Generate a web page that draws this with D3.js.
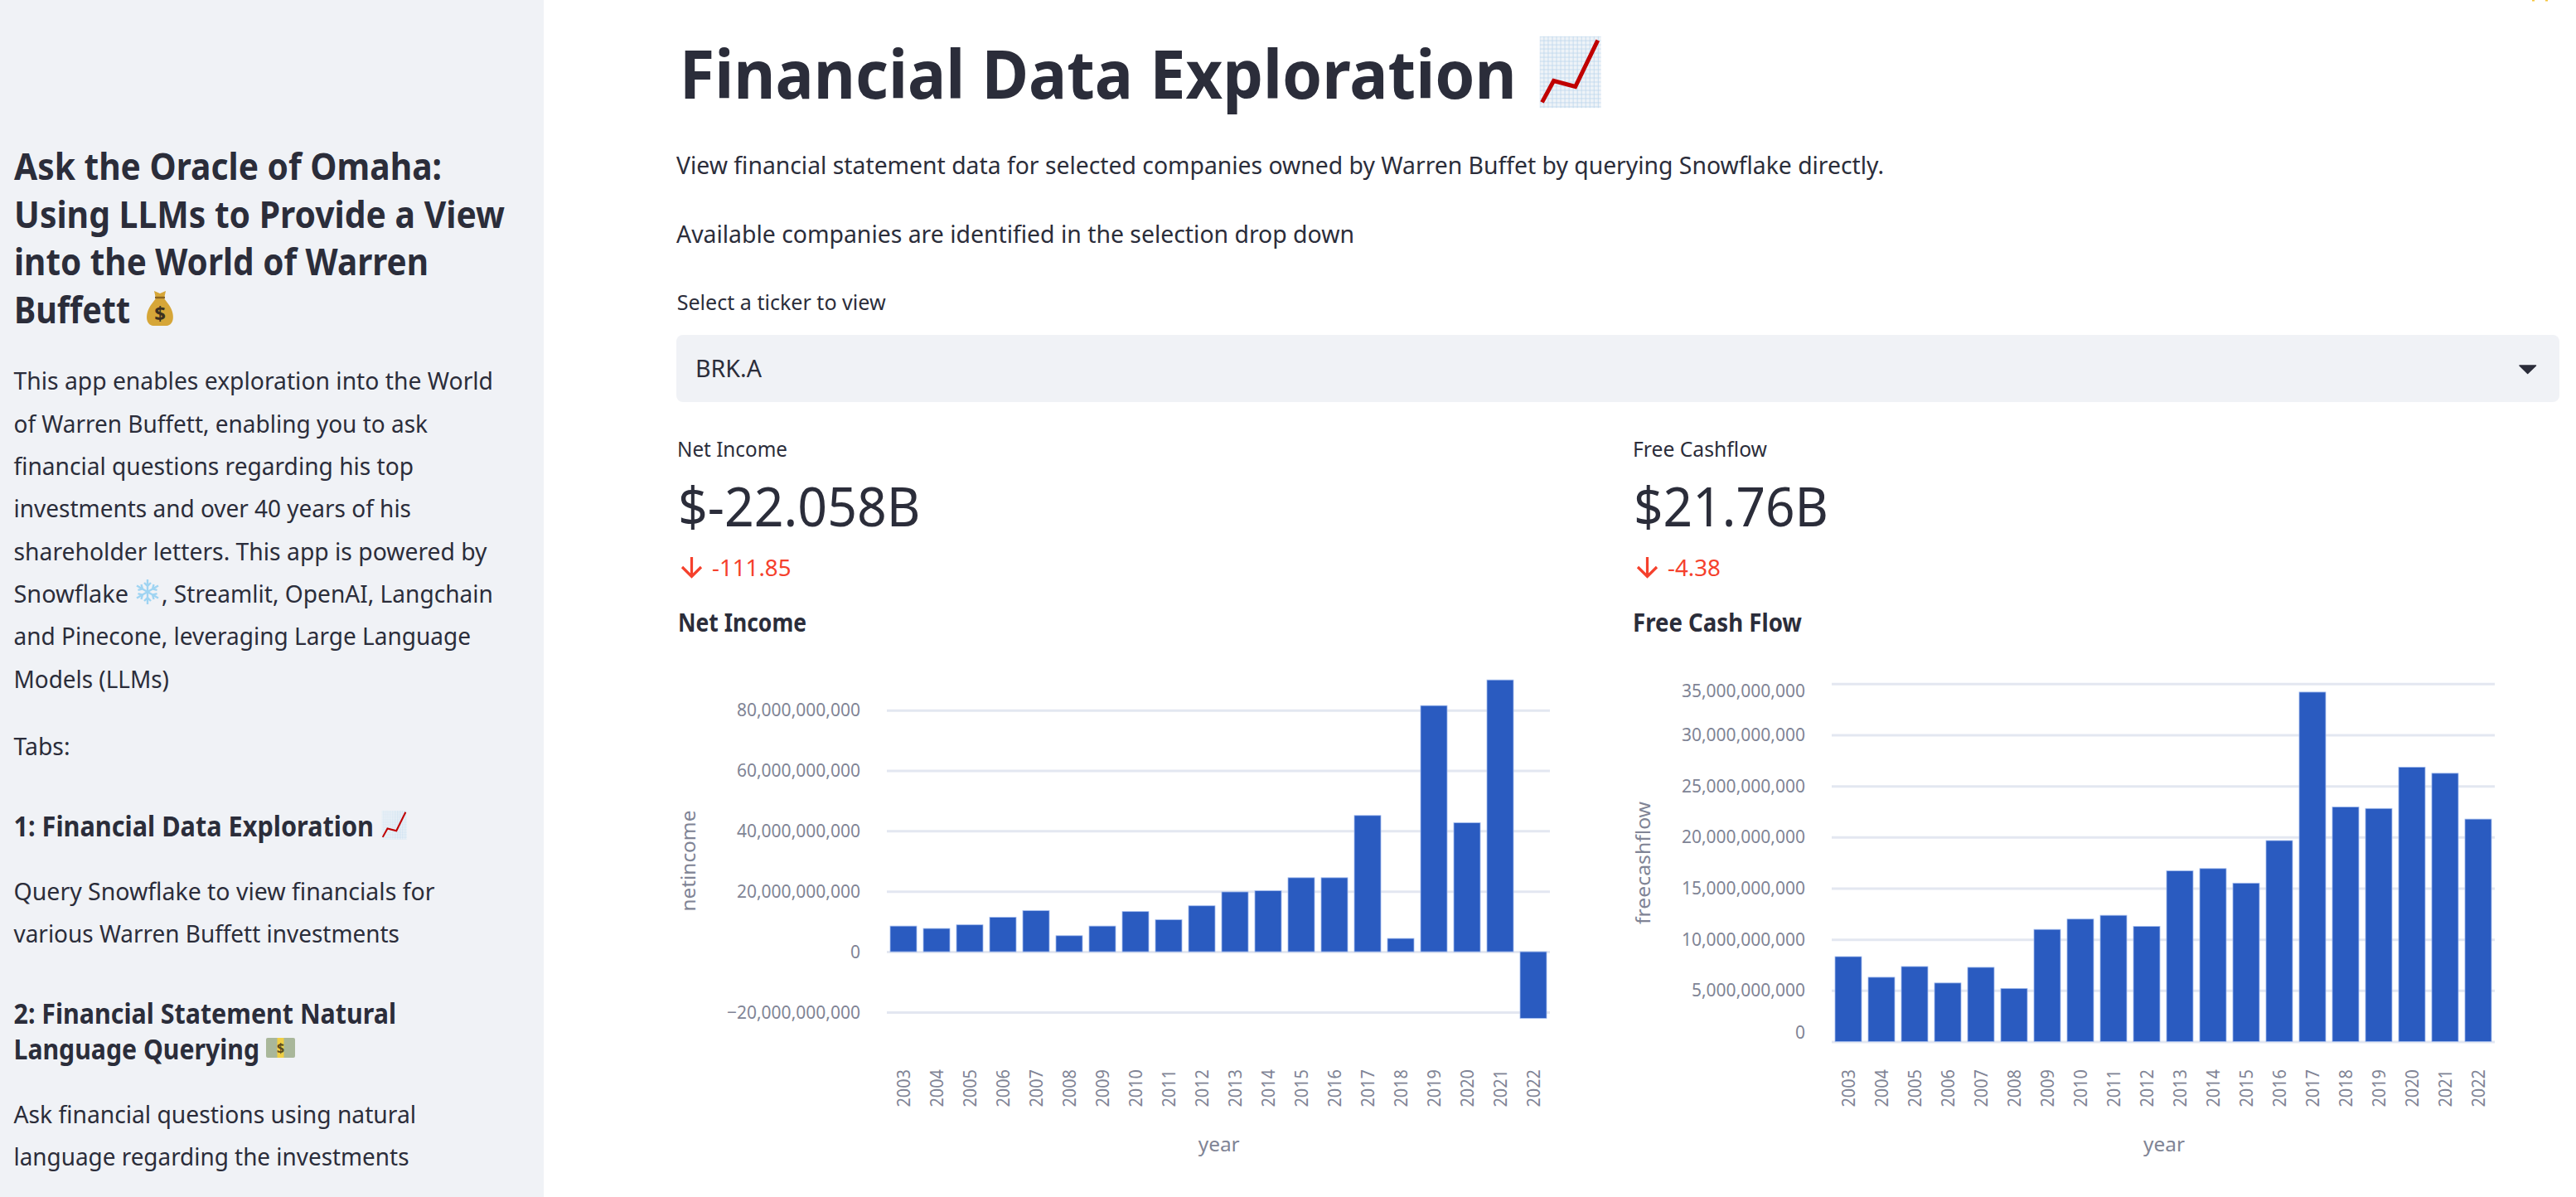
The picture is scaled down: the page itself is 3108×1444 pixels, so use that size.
<!DOCTYPE html>
<html><head><meta charset="utf-8"><title>Financial Data Exploration</title>
<script src="https://cdn.jsdelivr.net/npm/d3@7"></script>
<style>html,body{margin:0;padding:0;background:#fff;overflow:hidden}svg{display:block}text{font-family:"Noto Sans",sans-serif}</style>
</head><body><svg id="page" width="3108" height="1444" viewBox="0 0 3108 1444"></svg>
<script>
const years = ["2003","2004","2005","2006","2007","2008","2009","2010","2011","2012","2013","2014","2015","2016","2017","2018","2019","2020","2021","2022"];
const netIncome = [8.5,7.7,8.9,11.4,13.6,5.3,8.5,13.3,10.6,15.2,19.8,20.2,24.5,24.5,45.1,4.4,81.5,42.7,90,-22.058].map(v=>v*1e9);
const freeCashFlow = [8.31,6.29,7.34,5.73,7.26,5.2,10.97,11.98,12.35,11.27,16.7,16.92,15.5,19.66,34.18,22.95,22.8,26.84,26.24,21.76].map(v=>v*1e9);
const netIncomeTicks = [-20e9,0,20e9,40e9,60e9,80e9];
const freeCashTicks = [0,5e9,10e9,15e9,20e9,25e9,30e9,35e9];

const INK="#2b2d3a", GREY="#808495", RED="#f5402c", BAR="#2a5bc0", GRID="#e3e7f1", PANEL="#f0f2f6";
const svg=d3.select("#page");
svg.append("rect").attr("x",0).attr("y",0).attr("width",656).attr("height",1444).attr("fill",PANEL);

function t(str,x,y,size,weight,width,color){
  return svg.append("text").attr("x",x).attr("y",y).attr("font-size",size*0.925).attr("font-weight",weight||400)
    .attr("fill",color||INK).attr("textLength",width).attr("lengthAdjust","spacingAndGlyphs").text(str);
}

/* sidebar */
[["Ask the Oracle of Omaha:",216.7,516],["Using LLMs to Provide a View",274.7,592],["into the World of Warren",331.9,500],["Buffett",389.9,140]]
 .forEach(([s,y,w])=>t(s,17,y,48,700,w));
[["This app enables exploration into the World",470,578.5],["of Warren Buffett, enabling you to ask",521.5,499.5],["financial questions regarding his top",573,482.5],["investments and over 40 years of his",624,479.5],["shareholder letters. This app is powered by",675.5,571],["Snowflake",726.5,138.5],["and Pinecone, leveraging Large Language",778,551.5],["Models (LLMs)",829.5,187.5]]
 .forEach(([s,y,w])=>t(s,16.5,y,32,400,w));
t(", Streamlit, OpenAI, Langchain",195,726.5,32,400,400);
t("Tabs:",16.5,911.4,32,400,68);
t("1: Financial Data Exploration",16.5,1009,36,700,434.5);
t("Query Snowflake to view financials for",16.5,1085.7,32,400,508);
t("various Warren Buffett investments",16.5,1137,32,400,465.5);
t("2: Financial Statement Natural",16.5,1234.7,36,700,461.5);
t("Language Querying",16.5,1277.9,36,700,296.5);
t("Ask financial questions using natural",16.5,1355.3,32,400,485.5);
t("language regarding the investments",16.5,1405.6,32,400,477);

/* main header */
t("Financial Data Exploration",819.8,119.4,88,700,1010);
t("View financial statement data for selected companies owned by Warren Buffet by querying Snowflake directly.",816,210.3,32,400,1457);
t("Available companies are identified in the selection drop down",816,293,32,400,818);
t("Select a ticker to view",816.7,374,28,400,252);
svg.append("rect").attr("x",816).attr("y",404).attr("width",2272).attr("height",81).attr("rx",8).attr("fill",PANEL);
t("BRK.A",839,454.5,32,400,80);
svg.append("path").attr("d","M3040 441H3059.5L3049.7 450.5Z").attr("fill",INK).attr("stroke",INK).attr("stroke-width",1.5).attr("stroke-linejoin","round");

/* metrics */
function metric(x,label,lw,value,vw,dx,delta,dw){
  t(label,x+1,551,28,400,lw);
  t(value,x+2,634.5,72,400,vw);
  const a=x+6;
  svg.append("path").attr("d",`M${a+12.5} 672V695M${a+1} 684L${a+12.5} 695.5L${a+24} 684`).attr("fill","none").attr("stroke",RED).attr("stroke-width",3.2);
  t(delta,x+dx,694.7,30,400,dw,RED);
}
metric(816,"Net Income",133,"$-22.058B",292.5,43,"-111.85",95.5);
metric(1969,"Free Cashflow",162,"$21.76B",235,43,"-4.38",64);

/* charts */
function barChart(o){
  t(o.title,o.titleX,761.6,32,700,o.titleW);
  const x=d3.scaleBand().domain(years).range([o.left,o.left+800]).paddingInner(0.2).paddingOuter(0.1);
  const y=d3.scaleLinear().domain(o.domain).range(o.range);
  const g=svg.append("g");
  const yAxis=d3.axisLeft(y).tickValues(o.ticks).tickFormat(d3.format(",")).tickSize(0).tickPadding(32);
  const ya=g.append("g").attr("transform",`translate(${o.left},0)`).call(yAxis);
  ya.select(".domain").remove();
  ya.selectAll(".tick line").attr("x2",800).attr("stroke",GRID).attr("stroke-width",3);
  ya.selectAll(".tick text").attr("font-size",22).attr("font-family",'"Noto Sans",sans-serif').attr("fill",GREY)
    .each(function(d){
      const el=d3.select(this);
      el.attr("textLength",this.getComputedTextLength()*0.955).attr("lengthAdjust","spacingAndGlyphs");
      if(o.flush&&d===o.ticks[0]) el.attr("dy","-0.2em");
      if(o.flush&&d===o.ticks[o.ticks.length-1]) el.attr("dy","0.72em");
    });
  g.append("g").selectAll("rect").data(years).join("rect")
    .attr("x",d=>x(d)).attr("width",x.bandwidth())
    .attr("y",(d,i)=>Math.min(y(o.values[i]),y(0)))
    .attr("height",(d,i)=>Math.abs(y(o.values[i])-y(0)))
    .attr("fill",BAR).attr("stroke","#a3bcee").attr("stroke-width",0.8);
  const xAxis=d3.axisBottom(x).tickSize(0).tickPadding(0);
  const xa=g.append("g").attr("transform",`translate(0,1290)`).call(xAxis);
  xa.select(".domain").remove();
  xa.selectAll(".tick text").attr("font-size",22).attr("font-family",'"Noto Sans",sans-serif').attr("fill",GREY)
    .attr("text-anchor","end").attr("dy",0).attr("y",0).attr("x",0)
    .attr("transform","translate(8,0) rotate(-90)")
    .attr("textLength",45.5).attr("lengthAdjust","spacingAndGlyphs");
  svg.append("text").attr("transform",`translate(${o.titleAxisX},${o.titleAxisY}) rotate(-90)`).attr("text-anchor","middle")
    .attr("font-size",24).attr("fill",GREY).attr("textLength",o.axisLen).attr("lengthAdjust","spacingAndGlyphs").attr("dy","0.35em").text(o.axisName);
  svg.append("text").attr("x",o.yearX).attr("y",1389.4).attr("text-anchor","middle").attr("font-size",24).attr("fill",GREY)
    .attr("textLength",50).attr("lengthAdjust","spacingAndGlyphs").text("year");
}
barChart({title:"Net Income",titleX:818,titleW:155,left:1070,values:netIncome,ticks:netIncomeTicks,domain:[-30e9,90e9],range:[1257.4,820.2],flush:false,
  titleAxisX:831,titleAxisY:1038.6,axisLen:122,axisName:"netincome",yearX:1470.7});
barChart({title:"Free Cash Flow",titleX:1970,titleW:204,left:2210,values:freeCashFlow,ticks:freeCashTicks,domain:[0,35e9],range:[1256.5,824.8],flush:true,
  titleAxisX:1983,titleAxisY:1040.9,axisLen:148,axisName:"freecashflow",yearX:2611});

/* emoji drawn as small pictures */
const defs=svg.append("defs");
const pat=defs.append("pattern").attr("id","gridPaper").attr("width",5).attr("height",5).attr("patternUnits","userSpaceOnUse");
pat.append("rect").attr("width",5).attr("height",5).attr("fill","#eef3f8");
pat.append("path").attr("d","M0 0H5M0 0V5").attr("stroke","#bcd6ec").attr("stroke-width",1.6);
function chartEmoji(x,y,w,h){
  const s=svg.append("svg").attr("x",x).attr("y",y).attr("width",w).attr("height",h).attr("viewBox","0 0 74 87").attr("preserveAspectRatio","none");
  s.append("rect").attr("width",74).attr("height",87).attr("fill","url(#gridPaper)");
  s.append("path").attr("d","M3 80L17 54L43 61L70 5").attr("fill","none").attr("stroke","#c00000").attr("stroke-width",5);
}
chartEmoji(1857.5,43.6,74.3,86.8);
chartEmoji(460.5,977.7,30.5,35);
// money bag
const bag=svg.append("svg").attr("x",175).attr("y",350).attr("width",36).attr("height",43).attr("viewBox","0 0 36 43");
bag.append("path").attr("d","M11 1L18 4L25 1L23 10L29 18C36 28 36 42 26 43H10C0 42 0 28 7 18L13 10Z").attr("fill","#d6a638");
bag.append("path").attr("d","M12 9H24").attr("stroke","#8a6420").attr("stroke-width",2.4);
bag.append("text").attr("x",18).attr("y",37).attr("text-anchor","middle").attr("font-size",24).attr("font-weight",700).attr("fill","#3c3020").text("$");
// snowflake
const fl=svg.append("svg").attr("x",162).attr("y",698).attr("width",32).attr("height",32).attr("viewBox","-16 -16 32 32");
[0,60,120].forEach(a=>fl.append("path").attr("transform",`rotate(${a})`).attr("d","M0 -15V15M-4 -11L0 -7L4 -11M-4 11L0 7L4 11").attr("fill","none").attr("stroke","#9fd4f2").attr("stroke-width",2.4));
// banknote
const note=svg.append("svg").attr("x",321).attr("y",1252).attr("width",35).attr("height",24).attr("viewBox","0 0 35 24");
note.append("rect").attr("width",35).attr("height",24).attr("rx",2).attr("fill","#a9b79a");
note.append("rect").attr("x",13.5).attr("width",8).attr("height",24).attr("fill","#f0cf45");
note.append("text").attr("x",17.5).attr("y",18).attr("text-anchor","middle").attr("font-size",16).attr("font-weight",700).attr("fill","#5a4a20").text("$");
// status marks at the very top
svg.append("path").attr("d","M3055 0h3v1.5h-3ZM3071 0h3v1.5h-3Z").attr("fill","#f5c53c");
</script></body></html>
